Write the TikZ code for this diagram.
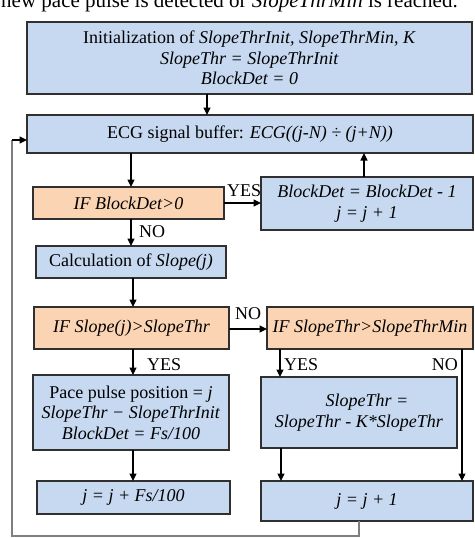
\documentclass[tikz,border=0pt]{standalone}
\usepackage{fontspec}
\setmainfont{Liberation Serif}
\usetikzlibrary{arrows.meta}
\definecolor{boxblue}{HTML}{C6D9F1}
\definecolor{boxorange}{HTML}{FBD4B4}
\definecolor{edgecol}{HTML}{303030}
\definecolor{loopgray}{HTML}{7F7F7F}
\begin{document}
\begin{tikzpicture}[x=1pt,y=-1pt,
  basebox/.style={draw=edgecol, line width=1.3pt, inner sep=0pt, outer sep=0pt, align=center,
    font=\fontsize{18}{20.5}\selectfont},
  bluebox/.style={basebox, fill=boxblue},
  orangebox/.style={basebox, fill=boxorange},
  arr/.style={-{Triangle[length=7.5pt,width=7pt]}, line width=1.1pt, black},
  lbl/.style={font=\fontsize{18}{20}\selectfont, inner sep=0pt},
  loopline/.style={line width=2pt, loopgray}]
\useasboundingbox (0,0) rectangle (474,538);
\fill[white] (0,0) rectangle (474,538);

\node[anchor=base east, inner sep=0pt, font=\fontsize{21}{24}\selectfont] (cap) at (458,7)
  {new pace pulse is detected or \textit{SlopeThrMin} is reached.};

\node[bluebox, minimum width=445pt, minimum height=72pt] (init) at (249.5,58)
  {Initialization of \textit{SlopeThrInit, SlopeThrMin}, \textit{K}\\
   \textit{SlopeThr = SlopeThrInit}\\ \textit{BlockDet = 0}};
\node[bluebox, minimum width=446pt, minimum height=38pt] (ecg) at (250,134)
  {ECG signal buffer: \textit{ECG((j-N) ÷ (j+N))}};
\node[orangebox, minimum width=191pt, minimum height=32pt] (ifb) at (128.5,203)
  {\textit{IF BlockDet>0}};
\node[bluebox, minimum width=212pt, minimum height=53pt] (bd) at (367,203.5)
  {\textit{BlockDet = BlockDet - 1}\\ \textit{j = j + 1}};
\node[bluebox, minimum width=190pt, minimum height=32pt] (calc) at (131,262)
  {Calculation of \textit{Slope(j)}};
\node[orangebox, minimum width=195pt, minimum height=42pt] (ifs) at (131.5,328)
  {\textit{IF Slope(j)>SlopeThr}};
\node[orangebox, minimum width=206pt, minimum height=42pt] (ift) at (370,328)
  {\textit{IF SlopeThr>SlopeThrMin}};
\node[bluebox, minimum width=196pt, minimum height=75pt] (pace) at (131,412.5)
  {Pace pulse position = \textit{j}\\ \textit{SlopeThr − SlopeThrInit}\\ \textit{BlockDet = Fs/100}};
\node[bluebox, minimum width=193pt, minimum height=33pt] (jfs) at (133.5,497.5)
  {\textit{j = j + Fs/100}};
\node[bluebox, minimum width=196pt, minimum height=71pt] (thr) at (359,412.5)
  {\hspace*{16pt}\textit{SlopeThr =}\\ \textit{SlopeThr - K*SlopeThr}};
\node[bluebox, minimum width=212pt, minimum height=40pt] (j1) at (367,501)
  {\textit{j = j + 1}};

% connectors
\draw[arr] ([xshift=-42.5pt]init.south) -- ([xshift=-43pt]ecg.north);
\draw[arr] ([xshift=-119pt]ecg.south) -- ([xshift=2.5pt]ifb.north);
\draw[arr] (ifb.east) -- (ifb.east -| bd.west);
\draw[arr] ([xshift=-3pt]bd.north) -- ([xshift=114pt]ecg.south);
\draw[arr] ([xshift=2.5pt]ifb.south) -- (calc.north);
\draw[arr] ([xshift=2pt]calc.south) -- ([xshift=1.5pt]ifs.north);
\draw[arr] ([yshift=-1pt]ifs.east) -- ([yshift=-1pt]ifs.east -| ift.west);
\draw[arr] ([xshift=1.5pt]ifs.south) -- ([xshift=2pt]pace.north);
\draw[arr] ([xshift=2pt]pace.south) -- ([xshift=-0.5pt]jfs.north);
\draw[arr] ([xshift=-90pt]ift.south) -- ([xshift=-79pt]thr.north);
\draw[arr] ([xshift=92pt]ift.south) -- ([xshift=95pt]j1.north);
\draw[arr] ([xshift=-78pt]thr.south) -- ([xshift=-86pt]j1.north);

% loop back
\coordinate (lb) at (12,536);
\coordinate (lt) at (12,140);
\draw[loopline] ([xshift=-8pt]j1.south) |- (lb) -- (lt);
\draw[arr] (lt) -- ([yshift=-6pt]ecg.west);

% labels
\node[lbl, anchor=base west] (yes1) at (227,196) {YES};
\node[lbl, anchor=base west] (no1) at (139,237) {NO};
\node[lbl, anchor=base west] (no2) at (235,319) {NO};
\node[lbl, anchor=base west] (yes2) at (147,370) {YES};
\node[lbl, anchor=base west] (yes3) at (284,370) {YES};
\node[lbl, anchor=base east] (no3) at (458,370) {NO};
\end{tikzpicture}
\end{document}
